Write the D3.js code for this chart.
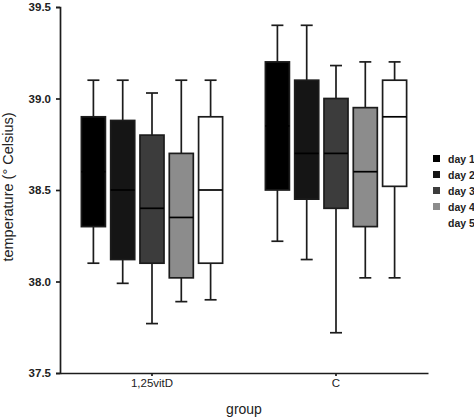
<!DOCTYPE html>
<html>
<head>
<meta charset="utf-8">
<script src="https://cdn.jsdelivr.net/npm/d3@7"></script>
<style>
  body { margin: 0; background: #fff; }
  svg { display: block; font-family: "Liberation Sans", Arial, sans-serif; }
</style>
</head>
<body>
<div id="chart"></div>
<script>
// groups and days
const groups = ['1,25vitD', 'C'];
const days = ['day 1', 'day 2', 'day 3', 'day 4', 'day 5'];
const dayColors = ['#000000', '#151515', '#3c3c3c', '#8c8c8c', '#ffffff'];

// box stats per group, one entry per day: [whiskerLow, q1, median, q3, whiskerHigh]
const vitD = [
  [38.10, 38.30, 38.60, 38.90, 39.10],
  [37.99, 38.12, 38.50, 38.88, 39.10],
  [37.77, 38.10, 38.40, 38.80, 39.03],
  [37.89, 38.02, 38.35, 38.70, 39.10],
  [37.90, 38.10, 38.50, 38.90, 39.10]
];
const control = [
  [38.22, 38.50, 38.85, 39.20, 39.40],
  [38.12, 38.45, 38.70, 39.10, 39.40],
  [37.72, 38.40, 38.70, 39.00, 39.18],
  [38.02, 38.30, 38.60, 38.95, 39.20],
  [38.02, 38.52, 38.90, 39.10, 39.20]
];
const yTicks = [37.5, 38.0, 38.5, 39.0, 39.5];

const width = 474, height = 419;
const margin = {top: 7, right: 46, bottom: 46, left: 60};
const w = width - margin.left - margin.right;
const h = height - margin.top - margin.bottom;

const data = [];
groups.forEach((g, gi) => {
  const src = gi === 0 ? vitD : control;
  days.forEach((d, di) => {
    const s = src[di];
    data.push({group: g, day: d, lo: s[0], q1: s[1], med: s[2], q3: s[3], hi: s[4]});
  });
});

const svg = d3.select('#chart').append('svg')
    .attr('width', width)
    .attr('height', height);

const g = svg.append('g')
    .attr('transform', `translate(${margin.left},${margin.top})`);

const x0 = d3.scaleBand().domain(groups).range([0, w]).padding(0);
const x1 = d3.scaleBand().domain(days).range([0, x0.bandwidth()])
    .paddingInner(0.18).paddingOuter(0.73);
const y = d3.scaleLinear().domain([37.5, 39.5]).range([h, 0]);
const color = d3.scaleOrdinal().domain(days).range(dayColors);

const stroke = '#1c1c1c';

const box = g.selectAll('.box')
  .data(data)
  .enter()
  .append('g')
    .attr('class', 'box')
    .attr('transform', d => `translate(${x0(d.group) + x1(d.day)},0)`);

const bw = x1.bandwidth();
const cap = 12;

// whiskers
box.append('line')
    .attr('x1', bw / 2).attr('x2', bw / 2)
    .attr('y1', d => y(d.hi)).attr('y2', d => y(d.lo))
    .attr('stroke', stroke).attr('stroke-width', 1.7);
box.append('line')
    .attr('x1', bw / 2 - cap / 2).attr('x2', bw / 2 + cap / 2)
    .attr('y1', d => y(d.hi)).attr('y2', d => y(d.hi))
    .attr('stroke', stroke).attr('stroke-width', 1.7);
box.append('line')
    .attr('x1', bw / 2 - cap / 2).attr('x2', bw / 2 + cap / 2)
    .attr('y1', d => y(d.lo)).attr('y2', d => y(d.lo))
    .attr('stroke', stroke).attr('stroke-width', 1.7);

// boxes
box.append('rect')
    .attr('x', 0)
    .attr('width', bw)
    .attr('y', d => y(d.q3))
    .attr('height', d => y(d.q1) - y(d.q3))
    .attr('fill', d => color(d.day))
    .attr('stroke', stroke)
    .attr('stroke-width', 1.7);

// medians
box.append('line')
    .attr('x1', 0).attr('x2', bw)
    .attr('y1', d => y(d.med)).attr('y2', d => y(d.med))
    .attr('stroke', '#000').attr('stroke-width', 1.7);

// y axis
g.append('g')
    .call(d3.axisLeft(y).tickValues(yTicks).tickFormat(d3.format('.1f')).tickSize(4).tickPadding(5))
    .call(a => a.selectAll('path, line').attr('stroke', stroke).attr('stroke-width', 1.7))
    .call(a => a.selectAll('text').attr('font-size', 11.5).attr('fill', '#222').attr('font-weight', 'bold'));

// x axis
g.append('g')
    .attr('transform', `translate(0,${h})`)
    .call(d3.axisBottom(x0).tickSize(3).tickPadding(3).tickSizeOuter(0))
    .call(a => a.selectAll('path, line').attr('stroke', stroke).attr('stroke-width', 1.7))
    .call(a => a.selectAll('text').attr('font-size', 11.5).attr('fill', '#222'));

// axis titles
svg.append('text')
    .attr('x', 244)
    .attr('y', 414)
    .attr('text-anchor', 'middle')
    .attr('font-size', 14)
    .attr('fill', '#222')
    .text('group');

svg.append('text')
    .attr('transform', 'translate(13,187) rotate(-90)')
    .attr('text-anchor', 'middle')
    .attr('font-size', 14.5)
    .attr('fill', '#222')
    .text('temperature (° Celsius)');

// legend
const legend = svg.append('g')
    .attr('transform', 'translate(433,155)');
const item = legend.selectAll('.item')
  .data(days)
  .enter()
  .append('g')
    .attr('transform', (d, i) => `translate(0,${i * 16})`);
item.append('rect')
    .attr('width', 7).attr('height', 7)
    .attr('fill', d => color(d));
item.append('text')
    .attr('x', 15)
    .attr('y', 7.5)
    .attr('font-size', 10.5)
    .attr('font-weight', 'bold')
    .attr('fill', '#222')
    .text(d => d);
</script>
</body>
</html>
